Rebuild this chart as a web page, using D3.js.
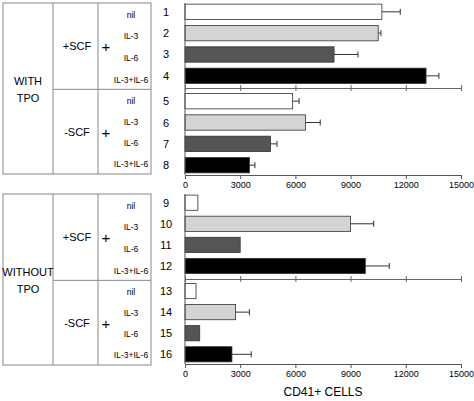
<!DOCTYPE html>
<html><head><meta charset="utf-8">
<script src="https://cdn.jsdelivr.net/npm/d3@7"></script>
<style>body{margin:0;background:#fff}text{font-family:Arial,"Liberation Sans",sans-serif;fill:#000}</style>
</head><body><svg id="c" width="474" height="401"></svg>
<script>
const numbers = [1,2,3,4,5,6,7,8,9,10,11,12,13,14,15,16];
const values = [10700,10500,8100,13100,5850,6550,4650,3500, 700,9000,3000,9800,600,2750,800,2550];
const errors = [1000,150,1300,700,350,800,350,300, 0,1250,0,1300,0,750,0,1050];
const fills = ["#ffffff","#d4d4d4","#555555","#000000"];
const ticks = [0,3000,6000,9000,12000,15000];
const tickLabels = ["0","3000","6000","9000","12000","15000"];
const treatments = ["nil","IL-3","IL-6","IL-3+IL-6"];
const panels = [{title:["WITH","TPO"],top:3,bottom:174,axisY:175,midY:88},
                {title:["WITHOUT","TPO"],top:194,bottom:365,axisY:364,midY:279}];

const svg = d3.select("#c");
const x = d3.scaleLinear().domain([0,15000]).range([185,461]);

panels.forEach((p,pi)=>{
  const g = svg.append("g").attr("fill","none").attr("stroke","#888").attr("stroke-width",1);
  g.append("rect").attr("x",3).attr("y",p.top).attr("width",148).attr("height",p.bottom-p.top);
  g.append("line").attr("x1",53).attr("x2",53).attr("y1",p.top).attr("y2",p.bottom);
  g.append("line").attr("x1",98).attr("x2",98).attr("y1",p.top).attr("y2",p.bottom);
  const split = p.top + (p.bottom-p.top)*0.505;
  g.append("line").attr("x1",53).attr("x2",151).attr("y1",split).attr("y2",split);
  svg.append("text").attr("x",28).attr("y",(p.top+p.bottom)/2-4).attr("text-anchor","middle").attr("font-size",11).attr("fill","#000").text(p.title[0]);
  svg.append("text").attr("x",28).attr("y",(p.top+p.bottom)/2+13).attr("text-anchor","middle").attr("font-size",11).attr("fill","#000").text(p.title[1]);
  [["+SCF",p.top,split],["-SCF",split,p.bottom]].forEach(([lab,a,b])=>{
    const cy=(a+b)/2;
    svg.append("text").attr("x",77).attr("y",cy+4).attr("text-anchor","middle").attr("font-size",11).attr("fill","#000").text(lab);
    svg.append("text").attr("x",106).attr("y",cy+6).attr("text-anchor","middle").attr("font-size",15).attr("fill","#000").text("+");
    treatments.forEach((t,i)=>{
      svg.append("text").attr("x",131).attr("y",a+(b-a)*(i+0.55)/4+3).attr("text-anchor","middle").attr("font-size",8.5).attr("fill","#000").text(t);
    });
  });
  const idx = d3.range(pi*8, pi*8+8);
  const y = d3.scaleBand().domain(idx).range([p.top, p.axisY-3]).paddingInner(0.28).paddingOuter(0.1);
  idx.forEach(i=>{
    const yy = y(i) + (i%8>=4?3:0) - (i%8<4?1:0);
    svg.append("rect").attr("x",x(0)).attr("y",yy).attr("width",x(values[i])-x(0)).attr("height",y.bandwidth())
      .attr("fill",fills[i%4]).attr("stroke","#333").attr("stroke-width",0.8);
    if(errors[i]>0){
      const cy=yy+y.bandwidth()/2;
      svg.append("line").attr("x1",x(values[i])).attr("x2",x(values[i]+errors[i])).attr("y1",cy).attr("y2",cy).attr("stroke","#333");
      svg.append("line").attr("x1",x(values[i]+errors[i])).attr("x2",x(values[i]+errors[i])).attr("y1",cy-3).attr("y2",cy+3).attr("stroke","#333");
    }
    svg.append("text").attr("x",166).attr("y",yy+y.bandwidth()/2+4).attr("text-anchor","middle").attr("font-size",11).attr("fill","#000").text(numbers[i]);
  });
  svg.append("line").attr("x1",x(0)).attr("x2",x(0)).attr("y1",p.top).attr("y2",p.axisY).attr("stroke","#555");
  const mid = svg.append("g").attr("transform",`translate(0,${p.midY})`)
    .call(d3.axisBottom(x).tickValues(ticks).tickSize(3).tickFormat(""));
  mid.selectAll("path,line").attr("stroke","#666");
  mid.selectAll(".tick line").attr("y1",-3);
  const ax = svg.append("g").attr("transform",`translate(0,${p.axisY})`)
    .call(d3.axisBottom(x).tickValues(ticks).tickSize(4).tickFormat((d,i)=>tickLabels[i]));
  ax.selectAll("path,line").attr("stroke","#555");
  ax.selectAll("text").attr("font-size",9).attr("fill","#000").attr("font-family","Arial,sans-serif");
});
svg.append("text").attr("x",323).attr("y",396).attr("text-anchor","middle").attr("font-size",12).attr("fill","#000").text("CD41+ CELLS");
</script></body></html>
